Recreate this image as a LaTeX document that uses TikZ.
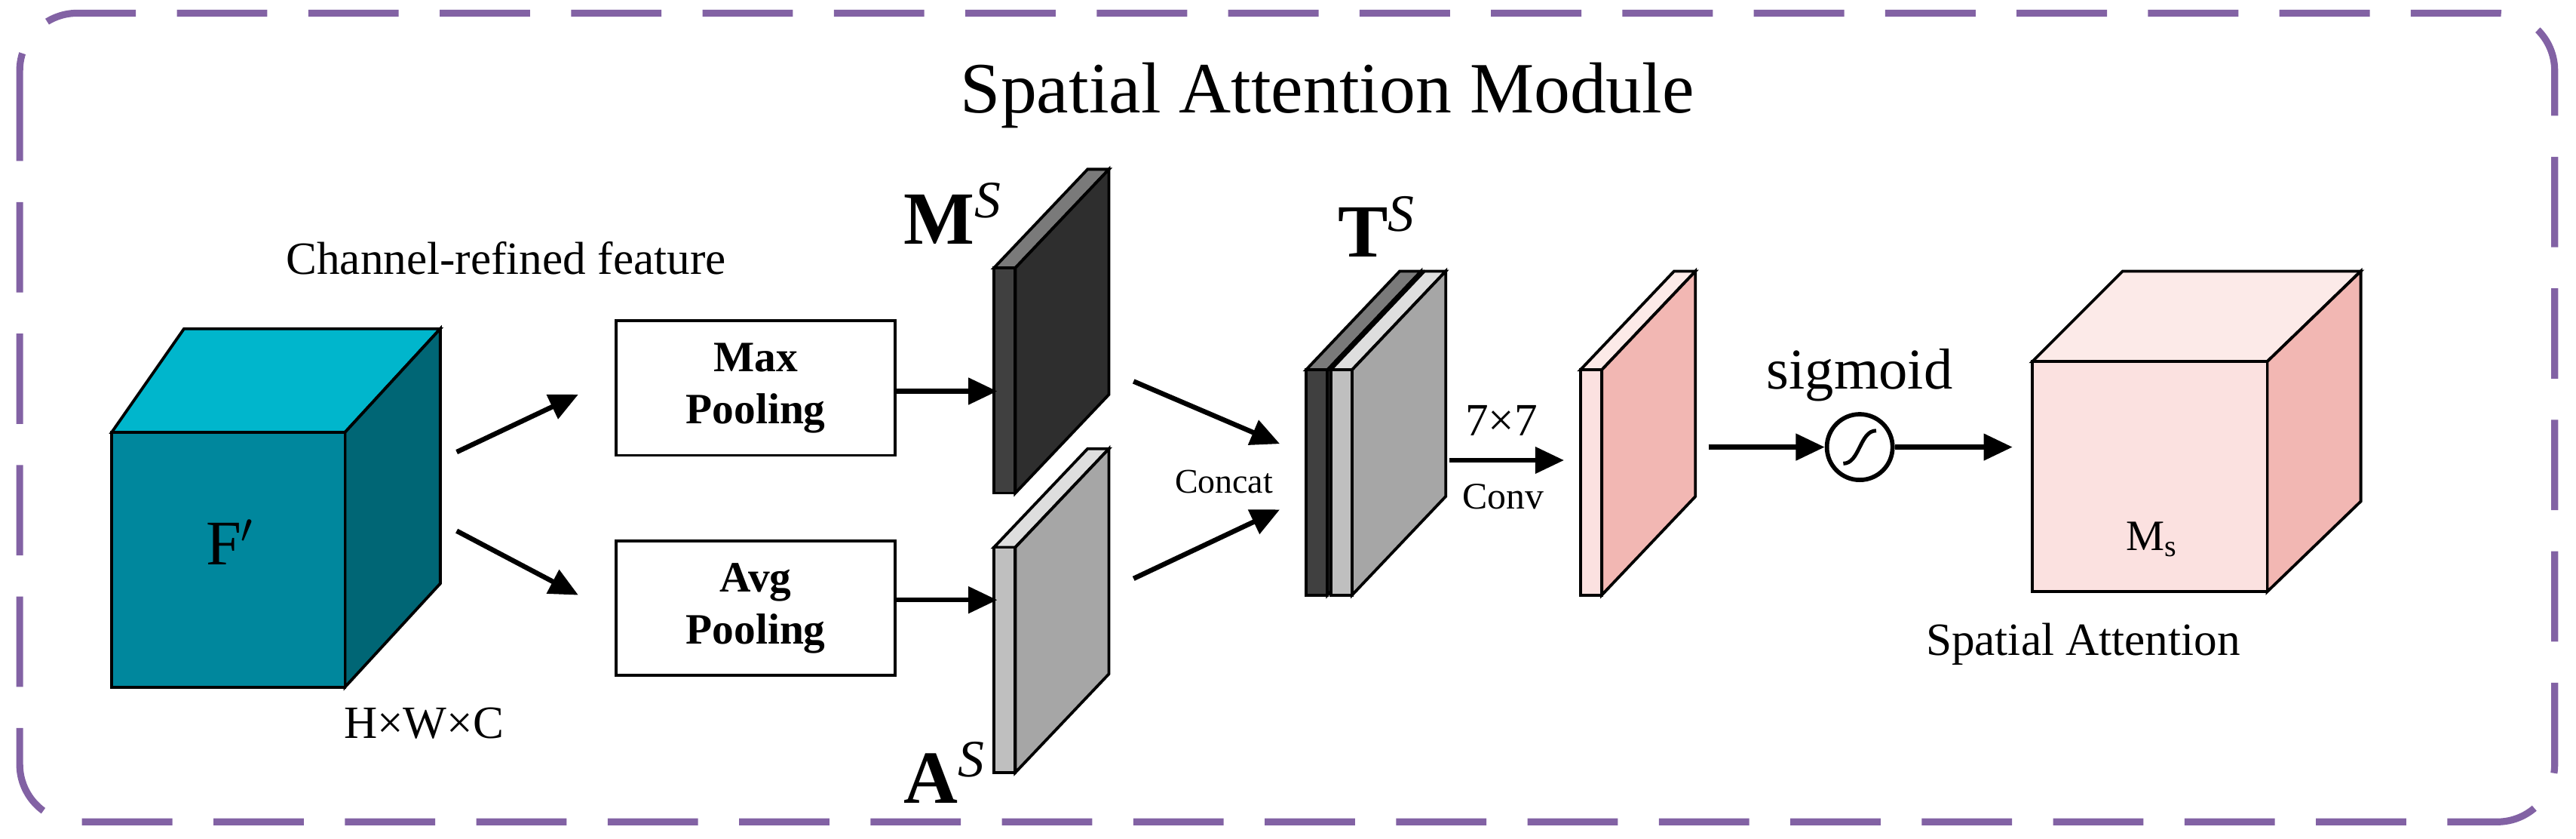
\documentclass[tikz,border=0pt]{standalone}
\usepackage{fontspec}
\setmainfont{Liberation Serif}
\usetikzlibrary{arrows.meta}
\definecolor{bord}{RGB}{130,98,164}
\definecolor{cfront}{RGB}{0,135,157}
\definecolor{ctop}{RGB}{0,182,204}
\definecolor{cside}{RGB}{0,102,117}
\definecolor{pfront}{RGB}{251,225,224}
\definecolor{ptop}{RGB}{252,234,232}
\definecolor{pside}{RGB}{242,183,179}
\newcommand{\myplate}[6]{% x0, ytop, ybot, strip, face, top
  \fill[#6,draw=black,line width=1pt] (#1,#2) -- (#1+13,#2) -- (#1+70,#2-60) -- (#1+57,#2-60) -- cycle;
  \fill[#5,draw=black,line width=1pt] (#1+13,#2) -- (#1+70,#2-60) -- (#1+70,#3-60) -- (#1+13,#3) -- cycle;
  \fill[#4,draw=black,line width=1pt] (#1,#2) rectangle (#1+13,#3);
}
\begin{document}
\begin{tikzpicture}[x=0.02cm,y=-0.02cm,
  arr/.style={-{Triangle[length=10pt,width=9pt]},line width=1.7pt},
  box/.style={draw,line width=1pt,minimum width=3.4cm,minimum height=1.64cm,align=center,font=\fontsize{15}{18}\selectfont\bfseries},
  lab/.style={inner sep=0pt}]
\useasboundingbox (0,0) rectangle (1568,510);
\draw[bord,line width=2.4pt,dash pattern=on 1.1cm off 0.5cm,rounded corners=0.7cm] (12,8) rectangle (1555,500);
\node[lab,font=\fontsize{25}{28}\selectfont] (title) at (808,58) {Spatial Attention Module};
% F' cube
\fill[ctop,draw=black,line width=1pt] (68,263) -- (112,200) -- (268,200) -- (210,263) -- cycle;
\fill[cside,draw=black,line width=1pt] (210,263) -- (268,200) -- (268,355) -- (210,418) -- cycle;
\fill[cfront,draw=black,line width=1pt] (68,263) rectangle (210,418);
\node[lab,font=\fontsize{22}{24}\selectfont] (F) at (140,330) {F$'$};
\node[lab,font=\fontsize{16}{19}\selectfont] (crf) at (308,157) {Channel-refined feature};
\node[lab,font=\fontsize{16}{19}\selectfont] (hwc) at (258,440) {H×W×C};
\node[box] (maxp) at (460,236) {Max\\Pooling};
\node[box] (avgp) at (460,370) {Avg\\Pooling};
\coordinate (f1) at (278,275); \coordinate (f2) at (278,323);
\coordinate (f1e) at (352,240); \coordinate (f2e) at (352,362);
\draw[arr] (f1) -- (f1e);
\draw[arr] (f2) -- (f2e);
% plates
\myplate{605}{163}{300}{black!75}{black!82}{black!52}
\myplate{605}{333}{470}{black!25}{black!35}{black!13}
\myplate{795}{225}{362}{black!75}{black!82}{black!52}
\myplate{810}{225}{362}{black!25}{black!35}{black!13}
\myplate{962}{225}{362}{pfront}{pside}{ptop}
\coordinate (mIn) at (607,238); \coordinate (aIn) at (607,365);
\draw[arr] (maxp.east |- mIn) -- (mIn);
\draw[arr] (avgp.east |- aIn) -- (aIn);
\node[lab,font=\fontsize{26}{28}\selectfont\bfseries] (ms) at (580,130) {M$^{\mathit{S}}$};
\node[lab,font=\fontsize{26}{28}\selectfont\bfseries] (as) at (575,470) {A$^{\mathit{S}}$};
\node[lab,font=\fontsize{26}{28}\selectfont\bfseries] (ts) at (838,138) {T$^{\mathit{S}}$};
\coordinate (c1) at (690,232); \coordinate (c2) at (779,270);
\coordinate (c3) at (690,352); \coordinate (c4) at (779,310);
\draw[arr] (c1) -- (c2); \draw[arr] (c3) -- (c4);
\node[lab,font=\fontsize{12}{14}\selectfont] (concat) at (745,293) {Concat};
\coordinate (v1) at (882,280); \coordinate (v2) at (952,280);
\draw[arr] (v1) -- (v2);
\node[lab,font=\fontsize{16}{18}\selectfont] (k) at (914,256) {7×7};
\node[lab,font=\fontsize{13}{15}\selectfont] (conv) at (915,302) {Conv};
\node[draw,circle,line width=1.5pt,minimum size=0.8cm,inner sep=0pt] (sig) at (1132,272) {};
\draw[line width=1.3pt] (1122,282) .. controls (1132,282) and (1132,262) .. (1142,262);
\node[lab,font=\fontsize{20}{22}\selectfont] (sigl) at (1132,228) {sigmoid};
\coordinate (s0) at (1040,272); \coordinate (s1) at (1225,272);
\draw[arr] (s0) -- (sig.west);
\draw[arr] (sig.east) -- (s1);
% Ms cube
\fill[ptop,draw=black,line width=1pt] (1237,220) -- (1292,165) -- (1437,165) -- (1380,220) -- cycle;
\fill[pside,draw=black,line width=1pt] (1380,220) -- (1437,165) -- (1437,305) -- (1380,360) -- cycle;
\fill[pfront,draw=black,line width=1pt] (1237,220) rectangle (1380,360);
\node[lab,font=\fontsize{15}{17}\selectfont] (msl) at (1310,328) {M\textsubscript{s}};
\node[lab,font=\fontsize{16}{19}\selectfont] (sa) at (1268,392) {Spatial Attention};
\end{tikzpicture}
\end{document}
